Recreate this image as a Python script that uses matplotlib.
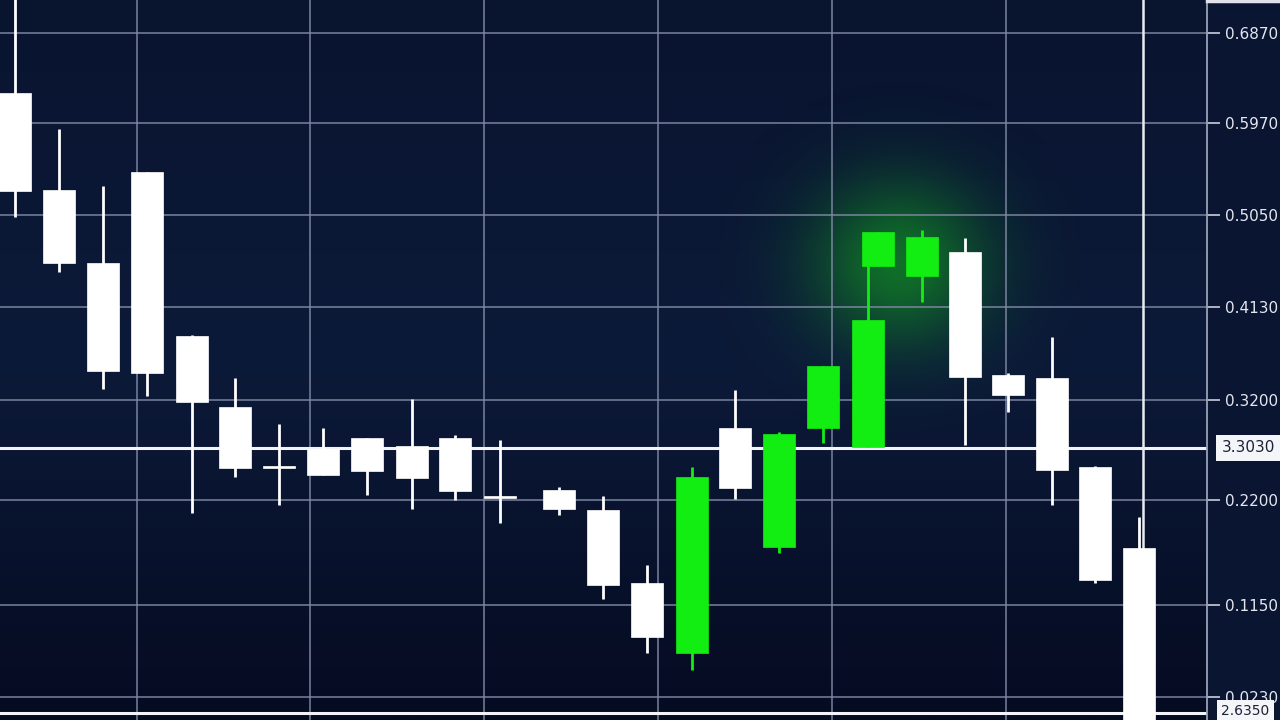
import numpy as np
import matplotlib
matplotlib.use('Agg')
import matplotlib.pyplot as plt
from matplotlib import transforms
from matplotlib.lines import Line2D

# candles: time position and OHLC (price units)
t = [15, 59, 103, 147, 192, 235, 279, 323, 367, 412, 455, 500, 559, 603,
     647, 692, 735, 779, 823, 868, 878, 922, 965, 1008, 1052, 1095, 1139]
opens = [0.627, 0.530, 0.457, 0.548, 0.384, 0.313, 0.254, 0.271, 0.282, 0.274,
         0.282, 0.224, 0.230, 0.210, 0.137, 0.067, 0.292, 0.173, 0.292, 0.273,
         0.454, 0.444, 0.468, 0.345, 0.342, 0.253, 0.172]
highs = [0.730, 0.591, 0.534, 0.548, 0.385, 0.342, 0.296, 0.292, 0.282, 0.321,
         0.285, 0.280, 0.233, 0.224, 0.155, 0.253, 0.330, 0.288, 0.354, 0.454,
         0.488, 0.490, 0.482, 0.347, 0.383, 0.254, 0.203]
lows = [0.503, 0.448, 0.331, 0.324, 0.207, 0.243, 0.215, 0.245, 0.225, 0.211,
        0.220, 0.197, 0.205, 0.121, 0.067, 0.050, 0.221, 0.167, 0.277, 0.273,
        0.454, 0.418, 0.275, 0.308, 0.215, 0.137, -0.005]
closes = [0.529, 0.457, 0.349, 0.347, 0.318, 0.252, 0.252, 0.245, 0.249, 0.242,
          0.229, 0.222, 0.211, 0.135, 0.083, 0.243, 0.232, 0.286, 0.354, 0.400,
          0.488, 0.483, 0.343, 0.325, 0.250, 0.140, -0.005]

price_ticks = [0.687, 0.597, 0.505, 0.413, 0.320, 0.220, 0.115, 0.023]
time_grid = [137, 310, 484, 658, 832, 1006]

cross_t = 1143
cross_price = 0.272
cross_label = '3.3030'
last_label = '2.6350'
glow_idx = [20, 21]

UP = '#12ee12'
DOWN = '#ffffff'
GRID = '#8089a5'

fig = plt.figure(figsize=(12.8, 7.2), dpi=100)
fig.patch.set_facecolor('#0a1532')
ax = fig.add_axes([0, 0, 1207 / 1280, 1])

xlim = (0, 1207)
ylim = (0.0, 0.720)

# background gradient (darker at the top)
grad = np.linspace(0, 1, 256)[:, None]
top = np.array([5, 11, 33]) / 255
mid = np.array([12, 26, 57]) / 255
bot = np.array([9, 20, 47]) / 255
w1 = np.clip(grad * 2, 0, 1)
w2 = np.clip(grad * 2 - 1, 0, 1)
col = top * (1 - w1) + mid * w1
col = col * (1 - w2) + bot * w2
bg = np.repeat(col[:, None, :], 2, axis=1)
ax.imshow(bg, extent=(xlim[0], xlim[1], ylim[1], ylim[0]), aspect='auto',
          zorder=0, origin='upper')

# green glow around the peak candles
gx = np.mean([t[i] for i in glow_idx])
gy = np.mean([(opens[i] + closes[i]) / 2 for i in glow_idx]) - 0.01
xx = np.linspace(gx - 180, gx + 180, 200)
yy = np.linspace(gy - 0.18, gy + 0.18, 200)
X, Y = np.meshgrid(xx, yy)
g = np.exp(-(((X - gx) / 62) ** 2 + ((Y - gy) / 0.058) ** 2) / 2)
glow = np.zeros((200, 200, 4))
glow[..., 0] = 0.08
glow[..., 1] = 0.72
glow[..., 2] = 0.12
glow[..., 3] = 0.55 * g
ax.imshow(glow, extent=(xx[0], xx[-1], yy[0], yy[-1]), origin='lower',
          aspect='auto', zorder=1, interpolation='bilinear')

# grid
for x in time_grid:
    ax.axvline(x, color=GRID, lw=1.3, alpha=0.8, zorder=2)
for p in price_ticks:
    ax.axhline(p, color=GRID, lw=1.3, alpha=0.8, zorder=2)

# crosshair and last-price line
ax.axhline(cross_price, color='#f2f4f8', lw=2.2, zorder=2.5)
ax.axvline(cross_t, color='#e8ebf2', lw=1.8, zorder=2.5)
ax.axhline(closes[-1] + 0.012, color='#f2f4f8', lw=2.2, zorder=2.5)

# candles
width = 32
for i in range(len(t)):
    o, h, l, c = opens[i], highs[i], lows[i], closes[i]
    color = UP if c > o else DOWN
    lo_b, hi_b = min(o, c), max(o, c)
    ax.vlines(t[i], l, h, color=color, lw=2.0, zorder=3)
    height = max(hi_b - lo_b, 0.002)
    ax.bar(t[i], height, width=width, bottom=lo_b, color=color,
           edgecolor=color, lw=0.5, zorder=4)

ax.set_xlim(*xlim)
ax.set_ylim(*ylim)

ax.set_xticks([])
ax.yaxis.tick_right()
ax.set_yticks(price_ticks)
ax.set_yticklabels([f'{p:.4f}' for p in price_ticks])
ax.tick_params(axis='y', colors='#c9cedb', length=9, width=1.2, pad=4,
               labelsize=11, labelcolor='#e4e7ef')
for s in ['top', 'left', 'bottom']:
    ax.spines[s].set_visible(False)
ax.spines['right'].set_color('#9aa2b8')
ax.spines['right'].set_linewidth(1.3)

# light border along the top of the price panel
fig.add_artist(Line2D([1207 / 1280, 1], [0.998, 0.998], transform=fig.transFigure,
                      color='#dfe2ea', lw=2.5))

# price boxes on the right axis
trans = transforms.blended_transform_factory(ax.transAxes, ax.transData)
ax.text(1.012, cross_price, cross_label, transform=trans, ha='left', va='center',
        fontsize=11, color='#1b2238', clip_on=False, zorder=6,
        bbox=dict(boxstyle='square,pad=0.35', fc='#f4f5f8', ec='none'))
ax.text(1.012, 0.002, last_label, transform=trans, ha='left',
        va='bottom', fontsize=10, color='#1b2238', clip_on=False, zorder=6,
        bbox=dict(boxstyle='square,pad=0.3', fc='#f4f5f8', ec='none'))

fig.savefig('out.png', dpi=100, facecolor=fig.get_facecolor())
